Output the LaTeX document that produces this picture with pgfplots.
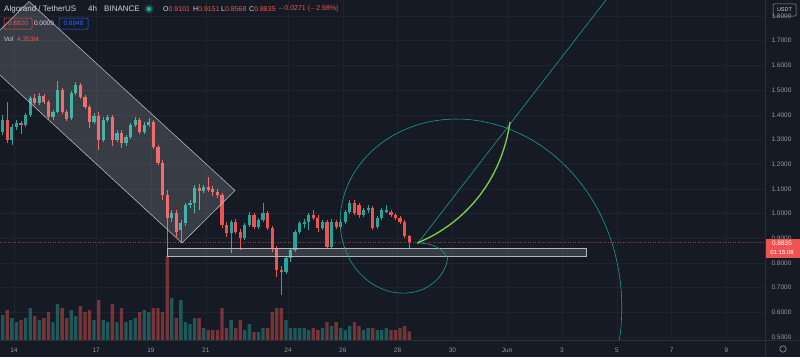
\documentclass[border=0pt]{standalone}
\usepackage{pgfplots}
\pgfplotsset{compat=1.18}
\usepackage{pgfplotstable}
\usepackage{fontspec}
\setmainfont{Liberation Sans}
\definecolor{bg}{HTML}{161A25}
\definecolor{gridc}{HTML}{1F2330}
\definecolor{sep}{HTML}{2A2E39}
\definecolor{txt}{HTML}{D1D4DC}
\definecolor{tgray}{HTML}{9598A1}
\definecolor{upc}{HTML}{26A69A}
\definecolor{dnc}{HTML}{EF5350}
\definecolor{spir}{HTML}{1E9C8A}
\definecolor{lime}{HTML}{7CD154}
\definecolor{chan}{HTML}{B2B5BE}
\definecolor{blu}{HTML}{2962FF}

\pgfplotstableread{
i o h l c v
0 1.3304 1.3992 1.3182 1.3790 12.5
1 1.3790 1.4518 1.2859 1.2980 15
2 1.2980 1.3628 1.2778 1.3506 11
3 1.3506 1.3790 1.3385 1.3668 9
4 1.3668 1.3749 1.3223 1.3587 10
5 1.3587 1.4073 1.3506 1.3992 11
6 1.3992 1.4761 1.3911 1.4680 16
7 1.4680 1.4842 1.4397 1.4478 12
8 1.4478 1.4883 1.4397 1.4761 10
9 1.4761 1.4842 1.4437 1.4518 11
10 1.4518 1.4599 1.3830 1.3911 14
11 1.3911 1.4195 1.3790 1.4114 9
12 1.4114 1.5369 1.4073 1.5004 18
13 1.5004 1.5085 1.4033 1.4114 16
14 1.4114 1.4195 1.3749 1.3830 11
15 1.3871 1.4964 1.3790 1.4883 15
16 1.4883 1.5328 1.4802 1.5207 12
17 1.5207 1.5288 1.4640 1.4721 17
18 1.4721 1.4802 1.4235 1.4316 14
19 1.4316 1.4397 1.3466 1.3709 15
20 1.3709 1.4073 1.3628 1.3952 10
21 1.3952 1.4114 1.2575 1.2980 20
22 1.2980 1.3911 1.2899 1.3790 10
23 1.3790 1.3992 1.3709 1.3911 9
24 1.3911 1.3992 1.2737 1.2980 18
25 1.2980 1.3385 1.2899 1.3263 9
26 1.3263 1.3385 1.2656 1.2859 16
27 1.2859 1.3182 1.2737 1.3101 9
28 1.3101 1.3668 1.3020 1.3587 10
29 1.3587 1.3911 1.3506 1.3790 11
30 1.3790 1.3871 1.3223 1.3304 14
31 1.3304 1.3709 1.3223 1.3587 15
32 1.3587 1.3871 1.3506 1.3709 14
33 1.3709 1.3790 1.2616 1.2697 16
34 1.2697 1.2778 1.1968 1.2049 16
35 1.2049 1.2170 1.0551 1.0753 14
36 1.0753 1.0956 0.8446 0.9822 42
37 0.9822 1.0146 0.9660 1.0025 21
38 1.0025 1.0146 0.9053 0.9255 11
39 0.9336 0.9741 0.8810 0.9620 20
40 0.9620 1.0429 0.9498 1.0348 9
41 1.0348 1.0551 1.0227 1.0429 8
42 1.0429 1.1158 1.0025 1.1037 11
43 1.1037 1.1199 1.0146 1.0915 11
44 1.0915 1.1158 1.0834 1.1077 6
45 1.1077 1.1482 1.0875 1.0956 5
46 1.0996 1.1118 1.0713 1.0875 5
47 1.0875 1.0996 1.0632 1.0753 5
48 1.0753 1.0834 0.9417 0.9539 16
49 0.9539 0.9660 0.9053 0.9215 6
50 0.9215 0.9741 0.8405 0.9660 10
51 0.9660 0.9782 0.9174 0.9255 6
52 0.9255 0.9377 0.8527 0.9012 10
53 0.9012 0.9620 0.8931 0.9539 5
54 0.9539 1.0065 0.9458 0.9944 8
55 0.9944 1.0025 0.9377 0.9458 4
56 0.9458 0.9822 0.9377 0.9741 4
57 0.9741 1.0429 0.9660 1.0025 6
58 1.0025 1.0105 0.9336 0.9417 6
59 0.9417 0.9498 0.8446 0.8608 14
60 0.8608 0.8688 0.7433 0.7717 16
61 0.7717 0.7879 0.6705 0.7636 16
62 0.7636 0.8284 0.7555 0.8203 10
63 0.8203 0.8608 0.8041 0.8527 6
64 0.8527 0.9336 0.8446 0.9255 6
65 0.9255 0.9701 0.9174 0.9620 6
66 0.9620 0.9782 0.9417 0.9660 6
67 0.9660 1.0025 0.9336 0.9944 5
68 0.9944 1.0146 0.9741 0.9822 6
69 0.9822 0.9944 0.9255 0.9417 5
70 0.9417 0.9741 0.9336 0.9660 6
71 0.9660 0.9741 0.8567 0.8648 9
72 0.8648 0.9782 0.8567 0.9660 7
73 0.9660 0.9741 0.9377 0.9458 9
74 0.9458 0.9782 0.9377 0.9660 6
75 0.9660 1.0146 0.9579 1.0065 5
76 1.0065 1.0551 0.9984 1.0429 7
77 1.0429 1.0551 0.9944 1.0025 9
78 1.0348 1.0429 0.9822 0.9944 7
79 0.9944 1.0227 0.9863 1.0146 5
80 1.0146 1.0348 1.0025 1.0227 6
81 1.0227 1.0308 0.9336 0.9417 6
82 0.9458 0.9903 0.9377 0.9822 5
83 0.9822 1.0227 0.9741 1.0146 5
84 1.0105 1.0348 1.0025 1.0146 6
85 1.0065 1.0146 0.9863 0.9944 5
86 0.9944 1.0025 0.9741 0.9822 5
87 0.9822 0.9903 0.9579 0.9660 6
88 0.9660 0.9741 0.9012 0.9093 7
89 0.9101 0.9151 0.8568 0.8835 4.353
}\candles

\pgfplotsset{
  candle/.style n args={2}{draw=none, mark=none, forget plot, restrict x to domain=13:42,
    error bars/.cd, y dir=both, y explicit, error mark=none,
    error bar style={draw=#1, line width=#2, solid}},
}

\begin{document}
\begin{tikzpicture}
\useasboundingbox (0,-17pt) rectangle (800pt,340pt);
\fill[bg] (0,-17pt) rectangle (800pt,340pt);
\begin{axis}[
  at={(0,0)}, anchor=south west,
  scale only axis, width=765pt, height=340pt,
  xmin=13.4891, xmax=41.4088, ymin=0.4883, ymax=1.8648,
  axis line style={draw=none}, major tick length=0pt,
  xtick={14,17,19,21,24,26,28,30,32,34,36,38,40},
  xticklabels={14,17,19,21,24,26,28,30,Jun,3,5,7,9},
  ytick={0.5,0.6,0.7,0.8,0.9,1.0,1.1,1.2,1.3,1.4,1.5,1.6,1.7,1.8},
  yticklabel pos=right,
  grid=major, major grid style={gridc, line width=0.6pt},
  ticklabel style={font=\fontsize{6.5}{7.5}\selectfont, text=tgray},
  xticklabel style={yshift=-4pt},
  yticklabel style={xshift=3pt},
  y tick label style={/pgf/number format/fixed, /pgf/number format/fixed zerofill, /pgf/number format/precision=4},
  /pgf/number format/assume math mode=true,
]
% volume
\addplot[ybar, bar width=3.3pt, bar shift=0pt, draw=none, fill=upc, fill opacity=0.45, restrict x to domain=13:42]
  table[x expr={13.59+\thisrow{i}/6+100*(\thisrow{c}<\thisrow{o})}, y expr={0.4883+\thisrow{v}*2/247}] {\candles};
\addplot[ybar, bar width=3.3pt, bar shift=0pt, draw=none, fill=dnc, fill opacity=0.45, restrict x to domain=13:42]
  table[x expr={13.59+\thisrow{i}/6+100*(\thisrow{c}>=\thisrow{o})}, y expr={0.4883+\thisrow{v}*2/247}] {\candles};
% wicks
\addplot[candle={upc}{0.7pt}]
  table[x expr={13.59+\thisrow{i}/6+100*(\thisrow{c}<\thisrow{o})}, y expr={(\thisrow{h}+\thisrow{l})/2}, y error expr={(\thisrow{h}-\thisrow{l})/2}] {\candles};
\addplot[candle={dnc}{0.7pt}]
  table[x expr={13.59+\thisrow{i}/6+100*(\thisrow{c}>=\thisrow{o})}, y expr={(\thisrow{h}+\thisrow{l})/2}, y error expr={(\thisrow{h}-\thisrow{l})/2}] {\candles};
% bodies
\addplot[candle={upc}{3.2pt}]
  table[x expr={13.59+\thisrow{i}/6+100*(\thisrow{c}<\thisrow{o})}, y expr={(\thisrow{o}+\thisrow{c})/2}, y error expr={max(abs(\thisrow{o}-\thisrow{c})/2,0.0015)}] {\candles};
\addplot[candle={dnc}{3.2pt}]
  table[x expr={13.59+\thisrow{i}/6+100*(\thisrow{c}>=\thisrow{o})}, y expr={(\thisrow{o}+\thisrow{c})/2}, y error expr={max(abs(\thisrow{o}-\thisrow{c})/2,0.0015)}] {\candles};
\end{axis}

% drawings (pixel-like coordinates, y downward)
\begin{scope}
\clip (0,0) rectangle (765pt,340pt);
\begin{scope}[shift={(0pt,340pt)}, x=1pt, y=-1pt]
  \draw[chan, line width=0.6pt, fill=white, fill opacity=0.15] (29,1.5) -- (235,190.5) -- (182,243) -- (-23.6,53.3) -- cycle;
  \draw[chan, line width=0.6pt, fill=white, fill opacity=0.15] (167,248) rectangle (586,256);
  \draw[dnc, opacity=0.6, dotted, line width=0.5pt] (0,242.4) -- (765,242.4);
  \draw[spir, line width=0.6pt] (418,243) -- (650,-57);
  \draw[spir, line width=0.6pt] (417,243) .. controls (432,243) and (442,248) .. (446.5,256.5)
     plot[domain=22:440, samples=260, variable=\t]
     ({418+49*1.618^((\t-102)/90)*cos(\t)}, {245+49*1.618^((\t-102)/90)*sin(\t)});
  \draw[lime, line width=1.3pt] (417,243) .. controls (455,228) and (500,190) .. (510,122);
\end{scope}
\end{scope}

\begin{scope}[shift={(0pt,340pt)}, x=1pt, y=-1pt]
  \draw[sep, line width=0.6pt] (765,-2) -- (765,357);
  \draw[sep, line width=0.6pt] (0,340) -- (800,340);
  % header
  \node[anchor=west, inner sep=0, text=txt, font=\fontsize{8}{9}\selectfont] at (4,9) {Algorand / TetherUS};
  \node[anchor=west, inner sep=0, text=txt, font=\fontsize{8}{9}\selectfont] at (88,9) {4h};
  \node[anchor=west, inner sep=0, text=txt, font=\fontsize{8}{9}\selectfont] at (104,9) {BINANCE};
  \fill[upc, opacity=0.3] (149,9) circle (4.5);
  \fill[upc] (149,9) circle (2.3);
  \node[anchor=west, inner sep=0, font=\fontsize{7}{8}\selectfont] at (163,9) {\textcolor{txt}{O}\textcolor{dnc}{0.9101}};
  \node[anchor=west, inner sep=0, font=\fontsize{7}{8}\selectfont] at (193,9) {\textcolor{txt}{H}\textcolor{dnc}{0.9151}};
  \node[anchor=west, inner sep=0, font=\fontsize{7}{8}\selectfont] at (221,9) {\textcolor{txt}{L}\textcolor{dnc}{0.8568}};
  \node[anchor=west, inner sep=0, font=\fontsize{7}{8}\selectfont] at (249,9) {\textcolor{txt}{C}\textcolor{dnc}{0.8835}};
  \node[anchor=west, inner sep=0, font=\fontsize{7}{8}\selectfont, text=dnc] at (278,9) {$-$0.0271 ($-$2.98\%)};
  % second row
  \draw[dnc, line width=0.5pt, rounded corners=1pt] (4,18) rectangle (32,29);
  \node[text=dnc, inner sep=0, font=\fontsize{6.5}{7}\selectfont] at (18,23.5) {0.8820};
  \node[text=txt, inner sep=0, font=\fontsize{6.5}{7}\selectfont] at (44,23.5) {0.0009};
  \draw[blu, line width=0.5pt, rounded corners=1pt] (59,18) rectangle (88,29);
  \node[text=blu, inner sep=0, font=\fontsize{6.5}{7}\selectfont] at (73.5,23.5) {0.8848};
  % third row
  \node[anchor=west, text=txt, inner sep=0, font=\fontsize{6.5}{7}\selectfont] at (4,39) {Vol};
  \node[anchor=west, text=dnc, inner sep=0, font=\fontsize{6.5}{7}\selectfont] at (17,39) {4.353M};
  % right scale extras
  \draw[tgray, line width=0.5pt, rounded corners=1pt] (773,4) rectangle (796,16);
  \node[text=txt, inner sep=0, font=\fontsize{5.5}{6}\selectfont] at (784.5,10) {USDT};
  \fill[dnc] (766,238.5) rectangle (800,258);
  \node[text=white, inner sep=0, font=\fontsize{6.5}{7}\selectfont] at (782,243.5) {0.8835};
  \node[text=white, inner sep=0, font=\fontsize{6}{7}\selectfont] at (782,252.5) {01:15:08};
  \draw[tgray, line width=0.6pt] (783,349) circle (3.2);
\end{scope}
\end{tikzpicture}
\end{document}
